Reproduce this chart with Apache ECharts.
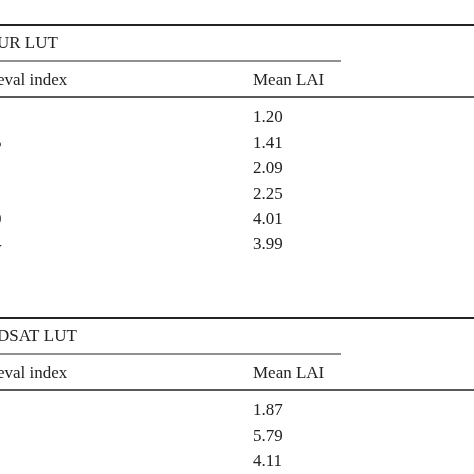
<!DOCTYPE html>
<html>
<head>
<meta charset="utf-8">
<script src="https://cdn.jsdelivr.net/npm/echarts@6/dist/echarts.min.js"></script>
<style>html,body{margin:0;padding:0;background:#fff}#c{width:474px;height:474px}</style>
</head>
<body>
<div id="c"></div>
<script>
// table content
var sectionTitles = ["UR LUT", "DSAT LUT"];
var colHeaders = ["eval index", "Mean LAI"];
var meanLaiA = ["1.20", "1.41", "2.09", "2.25", "4.01", "3.99"];
var meanLaiB = ["1.87", "5.79", "4.11"];
var leftFragmentsA = ["", "5", "", "", "0", "4"];

var chart = echarts.init(document.getElementById('c'));
var font = '17px "Liberation Serif", "DejaVu Serif", serif';
var els = [];

function hline(y, x2, w) {
    els.push({type: 'line', shape: {x1: 0, y1: y, x2: x2, y2: y},
        style: {stroke: '#222', lineWidth: w}});
}
function txt(x, y, s) {
    els.push({type: 'text', x: x, y: y,
        style: {text: s, font: font, fill: '#222', verticalAlign: 'middle'}});
}

function section(top, title, values, frags) {
    hline(top, 474, 1.8);
    txt(-3, top + 19, title);
    hline(top + 36, 341, 1.2);
    txt(-3, top + 56, colHeaders[0]);
    txt(253, top + 56, colHeaders[1]);
    hline(top + 72, 474, 1.4);
    values.forEach(function (v, i) {
        var y = top + 93 + i * 25.4;
        txt(253, y, v);
        if (frags && frags[i]) txt(-7, y, frags[i]);
    });
}

section(25, sectionTitles[0], meanLaiA, leftFragmentsA);
section(318, sectionTitles[1], meanLaiB, null);

chart.setOption({animation: false, graphic: {elements: els}});
</script>
</body>
</html>
